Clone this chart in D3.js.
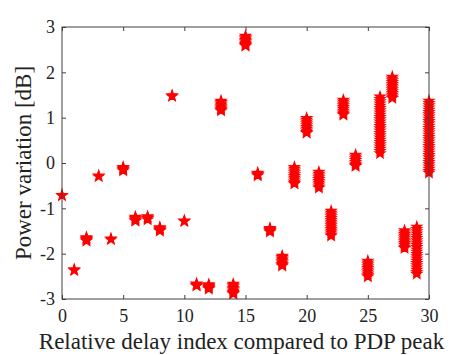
<!DOCTYPE html>
<html><head><meta charset="utf-8">
<script src="https://cdn.jsdelivr.net/npm/d3@7"></script>
<style>body{margin:0;background:#fff}svg{display:block}</style>
</head><body>
<script>
// Relative delay index (x) and measured power variation samples per index (y, dB)
const delayIndex = [0,1,2,3,4,5,6,7,8,9,10,11,12,13,14,15,16,17,18,19,20,21,22,23,24,25,26,27,28,29,30];
const powerValues = [
  [-0.71,-0.72],
  [-2.35,-2.37],
  [-1.64,-1.66,-1.68,-1.70,-1.72],
  [-0.28,-0.30],
  [-1.67,-1.69],
  [-0.09,-0.11,-0.13,-0.15,-0.17],
  [-1.19,-1.21,-1.23,-1.25,-1.27,-1.28],
  [-1.18,-1.20,-1.22,-1.25],
  [-1.42,-1.44,-1.46,-1.48,-1.50],
  [1.47,1.49],
  [-1.27,-1.29],
  [-2.66,-2.68,-2.70,-2.71],
  [-2.68,-2.70,-2.72,-2.74,-2.76,-2.78],
  [1.37,1.34,1.31,1.28,1.25,1.22,1.19,1.17,1.15],
  [-2.67,-2.70,-2.73,-2.76,-2.79,-2.82,-2.85,-2.87,-2.89],
  [2.80,2.77,2.74,2.71,2.68,2.65,2.62,2.60,2.58],
  [-0.22,-0.24,-0.26,-0.28],
  [-1.44,-1.46,-1.48,-1.50,-1.52],
  [-2.05,-2.08,-2.11,-2.14,-2.17,-2.20,-2.23,-2.25,-2.27],
  [-0.09,-0.13,-0.17,-0.21,-0.25,-0.29,-0.33,-0.37,-0.41,-0.44,-0.46],
  [0.99,0.95,0.91,0.87,0.83,0.79,0.75,0.71,0.68,0.66],
  [-0.20,-0.24,-0.28,-0.32,-0.36,-0.40,-0.44,-0.48,-0.52,-0.55],
  [-1.06,-1.10,-1.14,-1.18,-1.22,-1.26,-1.30,-1.34,-1.38,-1.42,-1.46,-1.50,-1.54,-1.58,-1.61],
  [1.39,1.35,1.31,1.27,1.23,1.19,1.15,1.11,1.08,1.06],
  [0.18,0.14,0.10,0.06,0.02,-0.02,-0.05,-0.07],
  [-2.16,-2.20,-2.24,-2.28,-2.32,-2.36,-2.40,-2.44,-2.48,-2.51],
  [1.46,1.41,1.36,1.31,1.26,1.21,1.16,1.11,1.06,1.01,0.96,0.91,0.86,0.81,0.76,0.71,0.66,0.61,0.56,0.51,0.46,0.41,0.36,0.31,0.26,0.21],
  [1.90,1.86,1.82,1.78,1.74,1.70,1.66,1.62,1.58,1.54,1.50,1.46,1.43],
  [-1.49,-1.53,-1.57,-1.61,-1.65,-1.69,-1.73,-1.77,-1.81,-1.85,-1.88],
  [-1.41,-1.46,-1.51,-1.56,-1.61,-1.66,-1.71,-1.76,-1.81,-1.86,-1.91,-1.96,-2.01,-2.06,-2.11,-2.16,-2.21,-2.26,-2.31,-2.36,-2.41,-2.45],
  [1.37,1.32,1.27,1.22,1.17,1.12,1.07,1.02,0.97,0.92,0.87,0.82,0.77,0.72,0.67,0.62,0.57,0.52,0.47,0.42,0.37,0.32,0.27,0.22,0.17,0.12,0.07,0.02,-0.03,-0.08,-0.13,-0.18,-0.22]
];
const xTicks = [0,5,10,15,20,25,30];
const yTicks = [-3,-2,-1,0,1,2,3];
const xLabel = "Relative delay index compared to PDP peak";
const yLabel = "Power variation [dB]";

const W = 474, H = 355;
const m = {left:62, right:45, top:27, bottom:56};
const svg = d3.select("body").append("svg").attr("width",W).attr("height",H);
const x = d3.scaleLinear().domain([0,30]).range([m.left, W-m.right]);
const y = d3.scaleLinear().domain([-3,3]).range([H-m.bottom, m.top]);
const font = "'Liberation Serif','Times New Roman',serif";
const axisColor = "#404040";
const fmt = d => String(d); // plain hyphen minus, integer labels

const points = [];
delayIndex.forEach((d,i)=>powerValues[i].forEach(v=>points.push({x:d,y:v})));

const star = d3.symbol().type(d3.symbolStar).size(30);
svg.append("g").selectAll("path").data(points).join("path")
  .attr("d", star)
  .attr("transform", d=>`translate(${x(d.x)},${y(d.y)})`)
  .attr("fill","#ff0000").attr("stroke","#ff0000").attr("stroke-width",1.2);

function styleAxis(g, hideText){
  g.select(".domain").remove();
  g.selectAll(".tick line").attr("stroke",axisColor);
  g.selectAll(".tick text").attr("fill","#222").style("font-family",font).style("font-size","18px");
  if(hideText) g.selectAll(".tick text").remove();
}
const tl = 4;
svg.append("g").attr("transform",`translate(0,${H-m.bottom})`)
  .call(d3.axisBottom(x).tickValues(xTicks).tickFormat(fmt).tickSize(-tl).tickPadding(10))
  .call(g=>styleAxis(g,false));
svg.append("g").attr("transform",`translate(0,${m.top})`)
  .call(d3.axisTop(x).tickValues(xTicks).tickSize(-tl))
  .call(g=>styleAxis(g,true));
svg.append("g").attr("transform",`translate(${m.left},0)`)
  .call(d3.axisLeft(y).tickValues(yTicks).tickFormat(fmt).tickSize(-tl).tickPadding(7))
  .call(g=>styleAxis(g,false));
svg.append("g").attr("transform",`translate(${W-m.right},0)`)
  .call(d3.axisRight(y).tickValues(yTicks).tickSize(-tl))
  .call(g=>styleAxis(g,true));

svg.append("rect").attr("x",m.left).attr("y",m.top)
  .attr("width",W-m.left-m.right).attr("height",H-m.top-m.bottom)
  .attr("fill","none").attr("stroke",axisColor).attr("stroke-width",1);

svg.append("text").attr("x",(m.left+W-m.right)/2 - 4).attr("y",349)
  .attr("text-anchor","middle").style("font-family",font).style("font-size","23px").attr("fill","#222")
  .text(xLabel);
svg.append("text").attr("transform",`translate(31,${(m.top+H-m.bottom)/2}) rotate(-90)`)
  .attr("text-anchor","middle").style("font-family",font).style("font-size","23px").attr("fill","#222")
  .text(yLabel);
</script>
</body></html>
